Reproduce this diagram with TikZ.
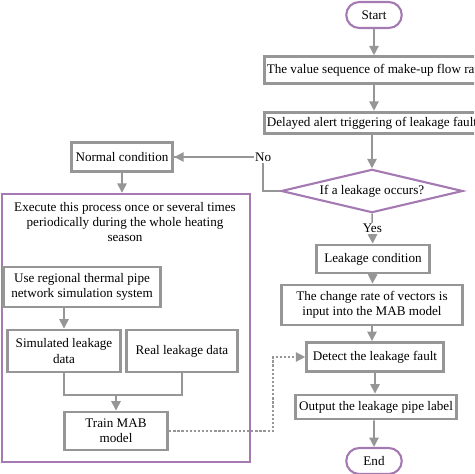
\documentclass[tikz,border=0pt]{standalone}
\usepackage{fontspec}
\setmainfont{Liberation Serif}
\usetikzlibrary{shapes.geometric,shapes.misc,arrows.meta,positioning}
\definecolor{boxgray}{RGB}{150,150,150}
\definecolor{lilac}{RGB}{165,122,178}

\begin{document}
\begin{tikzpicture}[x=0.03cm, y=-0.03cm,
    font=\fontsize{11.2}{13}\selectfont,
    block/.style={rectangle, draw=boxgray, line width=2.5pt, fill=white, align=center, inner sep=2pt},
    term/.style={rounded rectangle, draw=lilac, line width=1.8pt, fill=white, minimum width=1.9cm, minimum height=0.78cm},
    decide/.style={diamond, draw=lilac, line width=1.8pt, fill=white, aspect=4.2, inner sep=1pt, minimum width=5.45cm, minimum height=1.3cm},
    arrow/.style={-{Triangle[length=8pt, width=8pt]}, draw=boxgray, line width=1.3pt},
    link/.style={draw=boxgray, line width=1.3pt}
]
    \useasboundingbox (0,0) rectangle (474,474);
    \clip (0,0) rectangle (474,474);
    % right column
    \node[term] (start) at (374,15) {Start};
    \node[block, minimum height=0.8cm, anchor=west] (flow) at (263,70) {The value sequence of make-up flow rate};
    \node[block, minimum height=0.65cm, anchor=west] (alert) at (263,123) {Delayed alert triggering of leakage faults};
    \node[decide] (leak) at (372,191) {If a leakage occurs?};
    \node[block, minimum width=3.4cm, minimum height=0.84cm] (lcond) at (373,259) {Leakage condition};
    \node[block, minimum width=5.45cm, minimum height=1.2cm] (rate) at (372,305) {The change rate of vectors is\\input into the MAB model};
    \node[block, minimum width=4.1cm, minimum height=0.87cm] (detect) at (375,357) {Detect the leakage fault};
    \node[block, minimum width=4.85cm, minimum height=0.72cm] (output) at (376,407) {Output the leakage pipe label};
    \node[term] (end) at (374,461) {End};
    % left side
    \node[block, minimum width=3.05cm, minimum height=0.87cm] (normal) at (122,157) {Normal condition};
    \node[draw=lilac, line width=1.8pt, minimum width=7.45cm, minimum height=8.05cm] (season) at (126,328) {};
    \node[align=center] (note) at (125,222) {Execute this process once or several times\\periodically during the whole heating\\season};
    \node[block, minimum width=4.7cm, minimum height=1.2cm] (sim) at (82,287) {Use regional thermal pipe\\network simulation system};
    \node[block, minimum width=3.4cm, minimum height=1.26cm] (simdata) at (64,351) {Simulated leakage\\data};
    \node[block, minimum width=3.35cm, minimum height=1.26cm] (realdata) at (182,351) {Real leakage data};
    \node[block, minimum width=3.1cm, minimum height=1.14cm] (train) at (116,431) {Train MAB\\model};
    \coordinate (merge) at (116,395);
    % connectors
    \draw[arrow] (start) -- (flow.north -| start);
    \draw[arrow] (flow.south -| start) -- (alert.north -| start);
    \draw[arrow] (alert.south -| leak) -- (leak.north);
    \draw[arrow] (leak.south) -- node[fill=white, inner sep=1pt] {Yes} (lcond);
    \draw[arrow] (lcond) -- (rate);
    \draw[arrow] (rate) -- (rate |- detect.north);
    \draw[arrow] (detect) -- (output.north -| detect);
    \draw[arrow] (output.south -| end) -- (end);
    \draw[link] (leak.west) -- ++(-17,0) |- node[pos=0.5, fill=white, inner sep=1pt] (no) {No} (normal.east);
    \draw[arrow] (no.west) -- (normal.east);
    \draw[arrow] (normal) -- (season.north -| normal);
    \draw[arrow] (sim.south -| simdata) -- (simdata);
    \draw[link] (simdata) |- (merge);
    \draw[link] (realdata) |- (merge);
    \draw[arrow] (merge) -- (train);
    \draw[arrow, dash pattern=on 2pt off 1.5pt] (train.east) -| (273,357) -- (detect.west);
\end{tikzpicture}
\end{document}
